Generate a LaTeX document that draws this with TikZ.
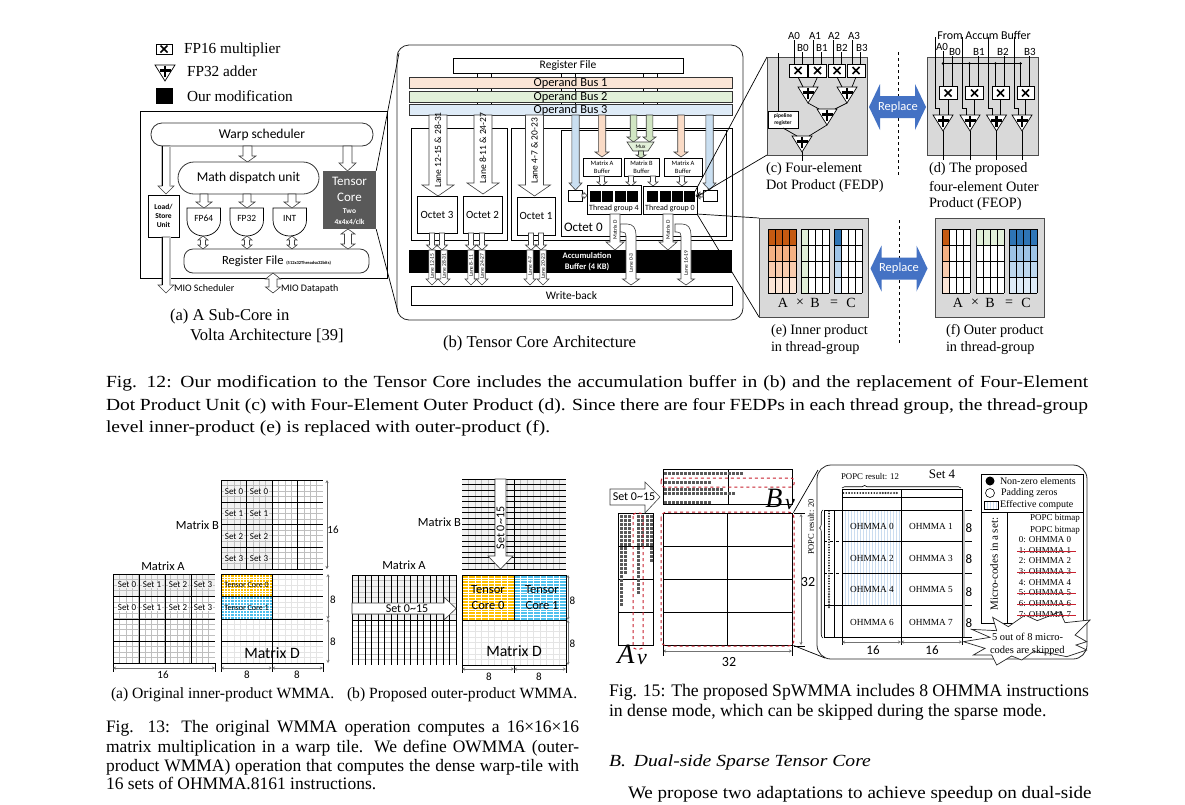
\documentclass[tikz,border=0pt]{standalone}
\usepackage{fontspec}
\setmainfont{Liberation Serif}
\newfontfamily\crl{Carlito}
\usetikzlibrary{arrows.meta,decorations.pathreplacing,calc}
\newcommand\fs[1]{\fontsize{#1}{\dimexpr #1pt*6/5\relax}\selectfont}
\definecolor{or1}{HTML}{C55A11}\definecolor{or2}{HTML}{F4B183}\definecolor{or3}{HTML}{F8CBAD}\definecolor{or4}{HTML}{FBE5D6}
\definecolor{bl1}{HTML}{2E75B6}\definecolor{bl2}{HTML}{9DC3E6}\definecolor{bl3}{HTML}{BDD7EE}\definecolor{bl4}{HTML}{DEEBF7}
\definecolor{hatchb}{HTML}{CBDDF0}
\definecolor{gr1}{HTML}{E2F0D9}\definecolor{gr2}{HTML}{C5E0B4}\definecolor{panelg}{HTML}{D9D9D9}\definecolor{cellg}{HTML}{F2F2F2}
\definecolor{gridg}{HTML}{BFBFBF}\definecolor{gridl}{HTML}{E4E4E4}\definecolor{tcorange}{HTML}{FFC000}\definecolor{tcblue}{HTML}{4FC1EE}
\definecolor{darkbox}{HTML}{595959}\definecolor{repl}{HTML}{4472C4}\definecolor{redd}{HTML}{C8202E}
\tikzset{
 lab/.style={inner sep=0pt,outer sep=0pt},
 ln/.style={line width=0.7pt,draw=black},
 ar/.style={draw=black!75,fill=white,line width=0.6pt},
 bxs/.style={draw=black,fill=white,line width=0.8pt,inner sep=0pt,outer sep=0pt},
 dim/.style={draw=black!55,line width=0.6pt,{Stealth[length=3pt,width=3pt]}-{Stealth[length=3pt,width=3pt]}},
 reddash/.style={draw=redd,dashed,line width=1pt,rounded corners=3pt},
}
\newcount\tc
\newcommand\tx[4][]{\global\advance\tc by 1 \node[lab,#1] (tx\the\tc) at (#2,#3) {#4};}
% box: style, name, x0,y0,x1,y1,text
\newcommand\bx[7][]{\node[bxs,minimum width={(#5-#3)*1pt},minimum height={(#6-#4)*1pt},align=center,#1] (#2) at ({(#3+#5)/2},{(#4+#6)/2}) {#7};}
% down arrow: style, x, y0, tip, half shaft, half head, head length
\newcommand\da[7][ar]{\draw[#1] ({#2-#5},#3) -- ({#2-#5},{#4-#7}) -- ({#2-#6},{#4-#7}) -- (#2,#4) -- ({#2+#6},{#4-#7}) -- ({#2+#5},{#4-#7}) -- ({#2+#5},#3) -- cycle;}
% double vertical arrow
\newcommand\dda[7][ar]{\draw[#1] (#2,#3) -- ({#2+#6},{#3+#7}) -- ({#2+#5},{#3+#7}) -- ({#2+#5},{#4-#7}) -- ({#2+#6},{#4-#7}) -- (#2,#4) -- ({#2-#6},{#4-#7}) -- ({#2-#5},{#4-#7}) -- ({#2-#5},{#3+#7}) -- ({#2-#6},{#3+#7}) -- cycle;}
% adder triangle: name, cx, top
\newcommand\adder[3]{\coordinate (#1) at (#2,#3); \coordinate (#1tip) at (#2,{#3+16});
 \draw[fill=white,line width=0.7pt] ({#2-10},#3) -- ({#2+10},#3) -- (#2,{#3+16}) -- cycle;
 \draw[line width=2.2pt] ({#2-5.5},{#3+5.5}) -- ({#2+5.5},{#3+5.5}) ({#2},{#3+0.5}) -- ({#2},{#3+11.5});}
% multiplier: name, cx, cy, half width, half height
\newcommand\mult[5]{\node[bxs,minimum width={2*#4*1pt},minimum height={2*#5*1pt}] (#1) at (#2,#3) {};
 \draw[line width=1.5pt] ({#2-3.5},{#3-3.5}) -- ({#2+3.5},{#3+3.5}) ({#2-3.5},{#3+3.5}) -- ({#2+3.5},{#3-3.5});}
% fine grid: x0,y0,x1,y1,colour
\newcommand\fine[5]{\foreach \i in {1,...,15}{\draw[#5,line width=0.5pt] ({#1+(#3-#1)*\i/16},#2) -- ({#1+(#3-#1)*\i/16},#4); \draw[#5,line width=0.5pt] (#1,{#2+(#4-#2)*\i/16}) -- (#3,{#2+(#4-#2)*\i/16});}}
% 4x4 matrix grid at x0
\newcommand\matg[1]{\foreach \i in {0,...,4}{\draw[line width=0.7pt] ({#1+7*\i},229) -- ({#1+7*\i},293); \draw[line width=0.7pt] (#1,{229+16*\i}) -- ({#1+28},{229+16*\i});}}
\newcommand\replace[3]{\node[lab,font=\crl\fs{12.5},text=white] (#1) at (#2,#3) {Replace};}
\newcommand\replshape[2]{\fill[repl] ({#1-29},#2) -- ({#1-18},{#2-23}) -- ({#1-18},{#2-11}) -- ({#1+17},{#2-11}) -- ({#1+17},{#2-23}) -- ({#1+28},#2) -- ({#1+17},{#2+23}) -- ({#1+17},{#2+11}) -- ({#1-18},{#2+11}) -- ({#1-18},{#2+23}) -- cycle;}
\newcommand\hrow[4]{\foreach \i in {1,...,#3}{\fill[darkbox] ({#1+4*(\i-1)},#2) rectangle ++(3,3);}}
\newcommand\vcol[3]{\foreach \i in {1,...,#3}{\fill[darkbox] (#1,{#2+4*(\i-1)}) rectangle ++(3,3);}}
\begin{document}
\begin{tikzpicture}[x=1pt,y=-1pt]
\useasboundingbox (0,0) rectangle (1185,804);
\fill[white] (0,0) rectangle (1185,804);

%%% ---------- legend
\mult{lgm}{164}{49}{8}{5}
\adder{lga}{165}{65}
\node[fill=black,inner sep=0pt,minimum width=17pt,minimum height=16pt] (lgk) at (164.5,96) {};
\tx[anchor=west,font=\fs{15.3}]{184}{50}{FP16 multiplier}
\tx[anchor=west,font=\fs{15.3}]{187}{71}{FP32 adder}
\tx[anchor=west,font=\fs{15.3}]{187}{96}{Our modification}

%%% ---------- panel (a)
\bx{pa}{140}{111}{387}{278}{}
\bx[rounded corners=11pt,draw=black!80]{warp}{151}{123}{373}{146}{\crl\fs{13.5}Warp scheduler}
\da{247.5}{146}{162}{4.5}{8.5}{6}
\da{347.5}{146}{171}{4.5}{8.5}{8}
\da{166}{146}{194}{4}{8}{8}
\draw[line width=0.9pt] (162,146) -- (162,186);
\draw[gridg,line width=1.5pt] (170,146) -- (170,186);
\bx[rounded corners=16pt,draw=black!80]{mdu}{178}{162}{319}{194}{\crl\fs{13.5}Math dispatch unit}
\node[fill=darkbox,inner sep=0pt,minimum width=53pt,minimum height=58pt] (tcr) at (349.5,200) {};
\tx[font=\crl\fs{13},text=white]{349.5}{181}{Tensor}
\tx[font=\crl\fs{13},text=white]{349.5}{197}{Core}
\tx[font=\crl\bfseries\fs{7.5},text=white]{349.5}{211}{Two}
\tx[font=\crl\bfseries\fs{7.5},text=white]{349.5}{222}{4x4x4/clk}
\bx[font=\crl\bfseries\fs{7.5}]{lsu}{148}{195}{179}{237}{Load/\\Store\\Unit}
\foreach \n/\a/\t in {fpa/187/FP64,fpb/230/FP32,fpc/273/INT}{
 \draw[fill=white,line width=0.7pt] (\a,208) -- ({\a+33.5},208) -- ({\a+33.5},220) .. controls ({\a+33.5},230) and ({\a+25},236) .. ({\a+16.7},236) .. controls ({\a+8},236) and (\a,230) .. (\a,220) -- cycle;
 \tx[font=\crl\fs{9.5}]{\a+16.7}{218}{\t}
}
\da{204}{194}{208}{4}{8}{6}
\da{247}{194}{208}{4}{8}{6}
\da{292}{194}{208}{4}{8}{6}
\bx[rounded corners=9pt,draw=black!80]{rf}{184}{249}{369}{273}{\crl\fs{12.5}Register File {\fs{4.5}\bfseries(512x32Threadsx32bits)}}
\dda{203}{236}{249}{2.5}{5}{4}
\dda{247}{236}{249}{2.5}{5}{4}
\dda{292}{236}{249}{2.5}{5}{4}
\dda{348}{229}{249}{3.5}{7}{5}
\dda{273}{273}{293}{4}{7.5}{6}
\da{166}{237}{293}{4}{8}{8}
\draw[line width=0.9pt] (162,237) -- (162,285);
\draw[gridg,line width=1.5pt] (170,237) -- (170,285);
\tx[anchor=west,font=\crl\fs{10}]{174}{288}{MIO Scheduler}
\tx[anchor=west,font=\crl\fs{10}]{281}{289}{MIO Datapath}
\tx[anchor=west,font=\fs{16.6}]{170}{316}{(a) A Sub-Core in}
\tx[anchor=west,font=\fs{16.6}]{190}{336}{Volta Architecture [39]}

%%% ---------- panel (b)
\node[draw=black!85,fill=white,line width=0.8pt,rounded corners=12pt,minimum width=346pt,minimum height=275pt,inner sep=0pt] (pb) at (570,182.5) {};
\coordinate (pbtl) at (399,53);\coordinate (pbbl) at (398,312);
\draw[ln] (tcr.north east) -- (pbtl);
\draw[ln] (tcr.south east) -- (pbbl);
\bx[font=\crl\fs{11.5}]{rfb}{453}{58}{683}{73}{Register File}
\foreach \x in {477,491,561,575,643,657}{\draw[line width=0.6pt] (\x,73) -- (\x,105);}
\bx[fill=or4,draw=black!80,line width=0.6pt,font=\crl\fs{12.4}]{bus1}{409}{78}{732}{88}{Operand Bus 1}
\bx[fill=gr1,draw=black!80,line width=0.6pt,font=\crl\fs{12.4}]{bus2}{409}{92}{732}{102}{Operand Bus 2}
\bx[fill=bl4,draw=black!80,line width=0.6pt,font=\crl\fs{12.4}]{bus3}{409}{105}{732}{115}{Operand Bus 3}
\draw[line width=0.8pt] (411,128) rectangle (507,240);
\draw[line width=0.8pt] (511,128) rectangle (732,240);
\draw[line width=0.8pt] (561,130) rectangle (726,236);
% zoom lines to (c) and (e)
\coordinate (ctl) at (767,57);\coordinate (cbl) at (767,155);\coordinate (etl) at (759,218);\coordinate (ebl) at (759,317);
\bx{oc3}{417}{196}{457}{233}{\crl\fs{11}Octet 3}
\bx{oc2}{463}{196}{502}{233}{\crl\fs{11}Octet 2}
\bx{oc1}{517}{197}{555}{235}{\crl\fs{11}Octet 1}
\tx[anchor=west,font=\crl\fs{13}]{564}{227}{Octet 0}
\da{438}{115}{196}{9}{16}{11}
\da{483}{115}{194}{9}{16}{11}
\da{534.5}{115}{196}{9}{16}{11}
\tx[rotate=90,font=\crl\fs{9.5}]{438}{150}{Lane 12-15 \& 28-31}
\tx[rotate=90,font=\crl\fs{9.5}]{483}{148}{Lane 8-11 \& 24-27}
\tx[rotate=90,font=\crl\fs{9.5}]{534.5}{151}{Lane 4-7 \& 20-23}
\tikzset{arb/.style={ar,fill=bl3!80},aro/.style={ar,fill=or3!70},arg/.style={ar,fill=gr2!80}}
\da[arb]{575.5}{115}{190}{3.7}{6.5}{7}
\da[aro]{602}{115}{157}{3.7}{7}{5}
\da[arg]{633.5}{115}{142}{3.3}{6.5}{5}
\da[arg]{649.5}{115}{142}{3.3}{6.5}{5}
\da[aro]{681}{115}{157}{3.3}{7}{5}
\da[arb]{709.5}{115}{190}{3.7}{6.5}{7}
\draw[ar,fill=gr1] (627,142) -- (654,142) -- (648,151) -- (633,151) -- cycle;
\tx[font=\crl\fs{5.5}]{640.5}{146.5}{Mux}
\da[arg]{641}{151}{158}{2.5}{5}{3}
\bx[font=\crl\fs{6.5}]{mab1}{583}{158}{621}{176}{Matrix A\\Buffer}
\bx[font=\crl\fs{6.5}]{mbb}{624}{158}{659}{176}{Matrix B\\Buffer}
\bx[font=\crl\fs{6.5}]{mab2}{664}{158}{702}{176}{Matrix A\\Buffer}
\da{602}{176}{186}{2.5}{5}{4}
\da{631}{176}{186}{2.5}{5}{4}
\da{653}{176}{186}{2.5}{5}{4}
\da{682}{176}{186}{2.5}{5}{4}
\bx{tg4}{587}{185}{641}{214}{}
\bx{tg0}{643}{186}{697}{214}{}
\tx[font=\crl\fs{8}]{614}{208}{Thread group 4}
\tx[font=\crl\fs{8}]{670}{208}{Thread group 0}
\foreach \x in {590,602,615,627,647,660,672,684}{\fill (\x,191) rectangle ++(10.5,11);}
\bx{sb1}{568}{190}{582}{201}{}
\bx{sb2}{703}{190}{717}{201}{}
\draw[ar] (sb1.east) ++(0,-1.5) -- ++(2,0) -- ++(0,-1.5) -- ++(3,3) -- ++(-3,3) -- ++(0,-1.5) -- ++(-2,0) -- cycle;
\draw[ar] (sb2.west) ++(0,-1.5) -- ++(-3,0) -- ++(0,-2) -- ++(-4,3.5) -- ++(4,3.5) -- ++(0,-2) -- ++(3,0) -- cycle;
\draw[ln] (sb2.west) ++(-8,-4) coordinate (sq) -- (ctl);
\draw[ln] (tg0.south east) -- (etl);
\draw[ln] (tg0.south east) -- (ebl);
\draw[ln,-{Stealth[length=5pt,width=4pt]}] (cbl) -- (696,197);
% accumulation buffer
\node[fill=black,inner sep=0pt,minimum width=323pt,minimum height=23pt] (acc) at (570.5,261.5) {};
\tx[font=\crl\bfseries\fs{8.5},text=white]{587}{256}{Accumulation}
\tx[font=\crl\bfseries\fs{8.5},text=white]{587}{267}{Buffer (4 KB)}
\bx[font=\crl\fs{11.5}]{wb}{411}{286}{732}{305}{Write-back}
\foreach \x in {432,442,471,482,531,541}{\da{\x}{233}{250}{2.5}{5.5}{5}}
\foreach \x/\t in {432/Lane 12-15,444/Lane 28-31,471/Lane 8-11,482/Lane 24-27,530/Lane 4-7,543/Lane 20-23}{
 \da{\x}{250}{285}{3.2}{6}{6}
 \tx[rotate=90,font=\crl\fs{5.5}]{\x}{266}{\t}
}
% elbows
\foreach \d/\t in {0/Lane 0-3,55/Lane 16-19}{
 \draw[ar] ({620+\d},224) -- ({627+\d},224) .. controls ({633+\d},224) and ({636+\d},228) .. ({636+\d},235) -- ({636+\d},279) -- ({639.5+\d},279) -- ({631+\d},285) -- ({622.5+\d},279) -- ({626+\d},279) -- ({626+\d},236) .. controls ({626+\d},233) and ({625+\d},232) .. ({622+\d},232) -- ({620+\d},232) -- cycle;
 \tx[rotate=90,font=\crl\fs{5.5}]{631+\d}{263}{\t}
}
\foreach \x in {615,668}{
 \da{\x}{214}{250}{5}{9}{8}
 \tx[rotate=90,font=\crl\fs{5.5}]{\x}{230}{Matrix D}
}
\tx[anchor=west,font=\fs{16.7}]{443}{343}{(b) Tensor Core Architecture}

%%% ---------- panel (c)
\node[fill=panelg,draw=black!70,line width=0.6pt,inner sep=0pt,minimum width=100pt,minimum height=98pt] (pc) at (817,106) {};
\mult{m1}{798}{70.5}{9}{6.5}\mult{m2}{817.5}{70.5}{9}{6.5}\mult{m3}{837}{70.5}{8.5}{6.5}\mult{m4}{856}{70.5}{9}{6.5}
\foreach \m in {m1,m2,m3,m4}{
 \draw[ln] ([xshift=-4pt]\m.north) -- ++(0,-24);
 \draw[ln] ([xshift=4pt]\m.north) -- ++(0,-12);
}
\tikzset{small/.style={font=\crl\fs{11}}}
\tx[small]{794}{36}{A0}\tx[small]{815}{36}{A1}\tx[small]{834}{36}{A2}\tx[small]{854}{36}{A3}
\tx[small]{803}{48}{B0}\tx[small]{822}{48}{B1}\tx[small]{842}{48}{B2}\tx[small]{862}{48}{B3}
\adder{a1}{808}{87}\adder{a2}{847}{87}\adder{a3}{827}{109}\adder{a4}{802}{136}
\draw[ln] (m1.south) -- ([xshift=-5pt]a1);
\draw[ln] (m2.south) -- ([xshift=5pt]a1);
\draw[ln] (m3.south) -- ([xshift=-5pt]a2);
\draw[ln] (m4.south) -- ([xshift=5pt]a2);
\draw[ln] (a1tip) -- ([xshift=-8pt]a3);
\draw[ln] (a2tip) -- ([xshift=8pt]a3);
\draw[ln] (a3tip) -- ([xshift=7pt]a4);
\node[bxs,minimum width=30pt,minimum height=17pt,font=\crl\bfseries\fs{5.5},align=center] (pipe) at (783,119.5) {pipeline\\register};
\draw[ln] (pipe.north) ++(-5,0) -- ++(0,-58);
\draw[ln] (pipe.south) -- ([xshift=-5pt]a4);
\draw[ln] (a4tip) -- ++(0,9);
\tx[anchor=west,font=\fs{14.3}]{766}{169}{(c) Four-element}
\tx[anchor=west,font=\fs{14.3}]{766}{186}{Dot Product (FEDP)}

% dashed separators and replace arrows
\draw[dashed,line width=0.7pt] (898,52) -- (898,177);
\draw[dashed,line width=0.7pt] (899,220) -- (899,345);
\replshape{898}{107}
\replshape{899.5}{268.5}
\replace{rp1}{898}{107}
\replace{rp2}{899}{268.5}

%%% ---------- panel (d)
\node[fill=panelg,draw=black!70,line width=0.6pt,inner sep=0pt,minimum width=111pt,minimum height=98pt] (pd) at (982.5,106) {};
\tx[font=\crl\fs{12}]{984}{35}{From Accum Buffer}
\tx[small]{942}{47}{A0}\tx[small]{955}{52}{B0}\tx[small]{979}{52}{B1}\tx[small]{1003}{52}{B2}\tx[small]{1030}{52}{B3}
\mult{d1}{948}{93}{9}{6.5}\mult{d2}{974.5}{93}{9}{6.5}\mult{d3}{1000.5}{93}{8.5}{6.5}\mult{d4}{1025.5}{93}{8.5}{6.5}
\adder{e1}{943}{115}\adder{e2}{970}{115}\adder{e3}{996.5}{115}\adder{e4}{1022}{115}
\foreach \m/\a in {d1/e1,d2/e2,d3/e3,d4/e4}{
 \draw[ln] (\m.south) -- (\m.south |- \a);
 \draw[ln] ([xshift=4pt]\m.north) -- ++(0,-31);
 \draw[ln] (\a tip) -- ++(0,29);
 \draw[ln] ([xshift=-5pt]\m.north) -- ++(0,-23);
}
\draw[ln] ([xshift=-5pt,yshift=23pt]d1.north) -- ++(79,0);
\draw[ln] ([xshift=-5pt]d1.north) -- ++(0,-36);
\foreach \m in {d1,d2,d3,d4}{\fill ([xshift=-5pt,yshift=23pt]\m.north) circle (1.3pt);}
\foreach \x/\a in {935/e1,962/e2,988/e3,1014/e4}{
 \coordinate (acc\a) at (\x,37);
 \draw[ln] (acc\a) -- ++(0,71) -- ++(4,0) -- ++(0,7);
}
\tx[anchor=west,font=\fs{14.3}]{929}{169}{(d) The proposed}
\tx[anchor=west,font=\fs{14.3}]{929}{187}{four-element Outer}
\tx[anchor=west,font=\fs{14.3}]{929}{204}{Product (FEOP)}

%%% ---------- panel (e)
\node[fill=panelg,draw=black!70,line width=0.6pt,inner sep=0pt,minimum width=109pt,minimum height=99pt] (pe) at (813.5,267.5) {};
\foreach \c/\y in {or1/229,or2/245,or3/261,or4/277}{\fill[\c] (768,\y) rectangle ++(28,16);}
\fill[white] (801,229) rectangle ++(28,64);
\fill[gr1] (801,229) rectangle ++(7,64);
\fill[white] (834,229) rectangle ++(28,64);
\foreach \c/\y in {bl1/229,bl2/245,bl3/261,bl4/277}{\fill[\c] (834,\y) rectangle ++(7,16);}
\matg{768}\matg{801}\matg{834}
\tikzset{matlab/.style={font=\fs{14}}}
\tx[matlab]{783}{303}{A}\tx[matlab]{800}{303}{×}\tx[matlab]{815}{303}{B}\tx[matlab]{834}{303}{=}\tx[matlab]{851}{303}{C}
\tx[anchor=west,font=\fs{14.3}]{771}{331}{(e) Inner product}
\tx[anchor=west,font=\fs{14.3}]{771}{348}{in thread-group}

%%% ---------- panel (f)
\node[fill=panelg,draw=black!70,line width=0.6pt,inner sep=0pt,minimum width=109pt,minimum height=99pt] (pf) at (989.5,267.5) {};
\fill[white] (942,229) rectangle ++(28,64);
\foreach \c/\y in {or1/229,or2/245,or3/261,or4/277}{\fill[\c] (942,\y) rectangle ++(7,16);}
\fill[white] (976,229) rectangle ++(28,64);
\fill[gr1] (976,229) rectangle ++(28,16);
\foreach \c/\y in {bl1/229,bl2/245,bl3/261,bl4/277}{\fill[\c] (1009,\y) rectangle ++(28,16);}
\matg{942}\matg{976}\matg{1009}
\tx[matlab]{958}{303}{A}\tx[matlab]{975}{303}{×}\tx[matlab]{990}{303}{B}\tx[matlab]{1009}{303}{=}\tx[matlab]{1026}{303}{C}
\tx[anchor=west,font=\fs{14.3}]{946}{331}{(f) Outer product}
\tx[anchor=west,font=\fs{14.3}]{946}{348}{in thread-group}

%%% ---------- Fig. 12 caption
\tx[anchor=base west,xscale=1.15,font=\fs{17}]{106}{387}{\makebox[854pt][s]{Fig. 12: Our modification to the Tensor Core includes the accumulation buffer in (b) and the replacement of Four-Element}}
\tx[anchor=base west,xscale=1.15,font=\fs{17}]{106}{410}{\makebox[854pt][s]{Dot Product Unit (c) with Four-Element Outer Product (d). Since there are four FEDPs in each thread group, the thread-group}}
\tx[anchor=base west,xscale=1.15,font=\fs{17}]{106}{432}{level inner-product (e) is replaced with outer-product (f).}

%%% ---------- Fig. 13 (a)
\fill[cellg] (221,480) rectangle (272,569);
\fine{221}{480}{323}{569}{gridg}
\foreach \y in {480,502,524,547,569}{\draw[line width=0.8pt] (221,\y) -- (323,\y);}
\foreach \x in {221,246,272,297}{\draw[line width=0.8pt] (\x,480) -- (\x,569);}
\foreach \x in {234,259}{\foreach \y/\n in {492/0,514/1,537/2,559/3}{\tx[font=\crl\fs{9},fill=cellg,inner sep=0.5pt]{\x}{\y}{Set \n}}}
\tx[font=\crl\fs{12.5},anchor=east]{219}{525}{Matrix B}
\draw[dim,draw=black!60,line width=0.9pt] (327,480) -- (327,569);
\tx[font=\crl\fs{11}]{333}{530}{16}
\fill[cellg] (113,574) rectangle (215,596);
\fine{113}{574}{215}{663}{gridg}
\foreach \y in {574,596,619,641,663}{\draw[line width=0.8pt] (113,\y) -- (215,\y);}
\foreach \x in {113,139,165,191}{\draw[line width=0.8pt] (\x,574) -- (\x,663);}
\foreach \x/\n in {127/0,152/1,178/2,203/3}{
 \tx[font=\crl\fs{9},fill=cellg,inner sep=0.5pt]{\x}{585}{Set \n}
 \tx[font=\crl\fs{9},fill=white,inner sep=0.5pt]{\x}{608}{Set \n}
}
\tx[font=\crl\fs{12.5}]{163}{566}{Matrix A}
\fine{221}{574}{323}{663}{gridl}
\fill[tcorange] (221,574) rectangle (272,596);
\fill[tcblue] (221,596) rectangle (272,619);
\fine{221}{574}{272}{619}{white}
\foreach \y in {574,596,619,641,663}{\draw[line width=0.8pt] (221,\y) -- (323,\y);}
\draw[line width=0.8pt] (221,574) -- (221,663);
\draw[line width=0.8pt] (272,574) -- (272,672);
\tx[font=\crl\fs{8}]{246.5}{585}{Tensor Core 0}
\tx[font=\crl\fs{8}]{246.5}{608}{Tensor Core 1}
\tx[font=\crl\fs{15.8}]{272}{653}{Matrix D}
\draw[dim] (328,574) -- (328,619);
\draw[dim] (328,619) -- (328,663);
\tx[font=\crl\fs{11}]{333}{600}{8}
\tx[font=\crl\fs{11}]{333}{642}{8}
\foreach \x in {113,215,221,323}{\draw[line width=0.7pt] (\x,663) -- (\x,672);}
\draw[dim] (113,668) -- (215,668);
\draw[dim] (221,668) -- (272,668);
\draw[dim] (272,668) -- (323,668);
\tx[font=\crl\fs{11}]{163}{675}{16}
\tx[font=\crl\fs{11}]{247}{675}{8}
\tx[font=\crl\fs{11}]{297}{675}{8}

%%% ---------- Fig. 13 (b)
\fill[cellg] (462,479) rectangle (566,569);
\foreach \i in {1,...,15}{\draw[gridg,line width=0.5pt] ({462+6.5*\i},479) -- ({462+6.5*\i},569);}
\foreach \i in {0,...,16}{\draw[line width=0.55pt] (462,{479+5.625*\i}) -- (566,{479+5.625*\i});}
\draw[line width=0.8pt] (514,479) -- (514,569);
\da{500.5}{479}{569}{5.5}{12.5}{13}
\tx[rotate=90,font=\crl\fs{12}]{500.5}{528}{Set 0\textasciitilde 15}
\tx[font=\crl\fs{12.5},anchor=east]{461}{522}{Matrix B}
\fill[cellg] (352,575) rectangle (456,620);
\foreach \i in {1,...,15}{\draw[gridg,line width=0.5pt] (352,{575+5.625*\i}) -- (456,{575+5.625*\i});}
\foreach \i in {0,...,16}{\draw[line width=0.55pt] ({352+6.5*\i},575) -- ({352+6.5*\i},665);}
\draw[line width=0.8pt] (352,620) -- (456,620);
\draw[line width=0.5pt] (352,575) -- (456,575);
\draw[ar] (352,603) -- (444,603) -- (444,597) -- (456,608.5) -- (444,620) -- (444,614) -- (352,614) -- cycle;
\tx[font=\crl\fs{12}]{407}{608.5}{Set 0\textasciitilde 15}
\tx[font=\crl\fs{12.5}]{404}{565}{Matrix A}
\fine{462}{575}{566}{665}{gridl}
\fill[tcorange] (462,575) rectangle (514,620);
\fill[tcblue] (514,575) rectangle (566,620);
\fine{462}{575}{566}{620}{white}
\foreach \y in {575,665}{\draw[line width=0.8pt] (462,\y) -- (566,\y);}
\draw[line width=0.9pt] (462,620) -- (566,620);
\draw[line width=0.8pt] (462,575) -- (462,665);
\draw[line width=0.8pt] (514,575) -- (514,620) (566,575) -- (566,665);
\draw[line width=0.7pt] (514,665) -- (514,673) (462,665) -- (462,673) (566,665) -- (566,673);
\tx[font=\crl\fs{12.5}]{488}{590}{Tensor}
\tx[font=\crl\fs{12.5}]{488}{605}{Core 0}
\tx[font=\crl\fs{12.5}]{542}{590}{Tensor}
\tx[font=\crl\fs{12.5}]{542}{605}{Core 1}
\tx[font=\crl\fs{15.8}]{514}{651}{Matrix D}
\draw[dim] (568,575) -- (568,620);
\draw[dim] (568,620) -- (568,665);
\tx[font=\crl\fs{11}]{572.5}{601}{8}
\tx[font=\crl\fs{11}]{572.5}{644}{8}
\draw[dim] (462,669) -- (514,669);
\draw[dim] (514,669) -- (566,669);
\tx[font=\crl\fs{11}]{489}{677}{8}
\tx[font=\crl\fs{11}]{539}{677}{8}

%%% ---------- Fig. 13 captions
\tx[anchor=west,font=\fs{15.6}]{111}{695}{(a) Original inner-product WMMA.}
\tx[anchor=west,font=\fs{15.6}]{347}{695}{(b) Proposed outer-product WMMA.}
\tx[anchor=base west,font=\fs{17.5}]{106}{732}{\makebox[473pt][s]{Fig. 13: The original WMMA operation computes a 16×16×16}}
\tx[anchor=base west,font=\fs{17.5}]{106}{752}{\makebox[473pt][s]{matrix multiplication in a warp tile. We define OWMMA (outer-}}
\tx[anchor=base west,font=\fs{17.5}]{106}{771}{\makebox[473pt][s]{product WMMA) operation that computes the dense warp-tile with}}
\tx[anchor=base west,font=\fs{17.5}]{106}{789}{16 sets of OHMMA.8161 instructions.}

%%% ---------- Fig. 15 left part
\node[draw=black,line width=0.8pt,inner sep=0pt,minimum width=129pt,minimum height=35pt] (bv) at (727.5,486.5) {};
\draw[line width=0.8pt] (728,469) -- (728,504);
\hrow{664}{472}{20}{}
\hrow{664}{481}{12}{}
\hrow{664}{488}{15}{}
\hrow{664}{492}{18}{}
\hrow{664}{501}{12}{}
\draw[reddash] (661,478) rectangle (794,487);
\tx[font=\itshape\fs{28}]{774}{498}{B}
\tx[font=\itshape\fs{22}]{790}{505}{v}
\node[draw=black,line width=0.8pt,inner sep=0pt,minimum width=35pt,minimum height=132pt] (av) at (635.5,579) {};
\foreach \y in {546,579,612}{\draw[line width=0.8pt] (618,\y) -- (653,\y);}
\vcol{620}{515}{23}
\vcol{624}{515}{15}
\vcol{628}{515}{8}
\vcol{637}{515}{20}
\vcol{641}{515}{8}
\vcol{646}{515}{8}
\vcol{650}{515}{12}
\draw[reddash] (633,513) rectangle (643,649);
\tx[font=\itshape\fs{28}]{626}{654}{A}
\tx[font=\itshape\fs{22}]{642}{660}{v}
\draw[ar] (610,489) -- (645,489) -- (645,482) -- (660,497) -- (645,513) -- (645,505) -- (610,505) -- cycle;
\tx[font=\crl\fs{12}]{634}{497}{Set 0\textasciitilde 15}
\node[draw=black,line width=0.8pt,inner sep=0pt,minimum width=129pt,minimum height=132pt] (mm) at (727.5,579) {};
\foreach \y in {546,579,612}{\draw[line width=0.8pt] (663,\y) -- (792,\y);}
\draw[line width=0.8pt] (727,513) -- (727,645);
\draw[reddash,rounded corners=6pt] (661,512) rectangle (794,646);
\draw[dim,line width=0.8pt] (801,514) -- (801,645);
\draw[line width=0.6pt] (794,513) -- (805,513) (794,646) -- (805,646);
\tx[font=\crl\fs{14}]{808}{582}{32}
\draw[dim] (663,651) -- (792,651);
\draw[line width=0.6pt] (663,645) -- (663,656) (792,645) -- (792,656);
\tx[font=\crl\fs{14}]{729}{662}{32}

%%% ---------- Fig. 15 callout
\node[draw=black!85,line width=0.8pt,rounded corners=14pt,minimum width=270pt,minimum height=194pt,inner sep=0pt] (co) at (952,562) {};
\coordinate (cotl) at (818,470);\coordinate (cobl) at (825,658);
\draw[ln] (mm.north east) ++(1,0) -- (cotl);
\draw[ln] (mm.south east) ++(1,0) -- (cobl);
\tx[rotate=90,font=\fs{8.5},fill=white]{811}{527}{POPC result: 20}
\draw[line width=0.6pt,decorate,decoration={brace,amplitude=3.5pt,aspect=0.14,mirror}] (823,510) -- (823,638);
\tx[font=\fs{8.8}]{870}{476}{POPC result: 12}
\tx[font=\fs{13}]{942}{474}{Set 4}
\draw[line width=0.6pt,decorate,decoration={brace,amplitude=2.5pt,aspect=0.19}] (842,488) -- (961,488);
\node[draw=black,line width=0.8pt,inner sep=0pt,minimum width=120pt,minimum height=8pt] (topr) at (902,493) {};
\draw[line width=0.8pt] (901,489) -- (901,510);
\foreach \i in {0,...,11}{\fill ({843.5+2.8*\i},493) circle (0.9pt);}
\foreach \i in {12,...,19}{\draw[line width=0.3pt] ({843.5+2.8*\i},493) circle (0.9pt);}
\draw[gridg,dashed,line width=0.5pt] (842,497) -- (842,510) (962,497) -- (962,510);
% effective cells
\fill[hatchb] (842,510) rectangle (901,605);
\foreach \i in {0,...,38}{\draw[white,line width=0.4pt] ({842.7+1.5*\i},510) -- ({842.7+1.5*\i},605);}
\foreach \y in {510,541,573,605,637}{\draw[line width=0.8pt] (824,\y) -- (972,\y);}
\draw[white,line width=1pt] (824,541) -- (842,541) (824,573) -- (842,573);
\draw[dashed,line width=0.7pt] (824,541) -- (842,541) (824,573) -- (842,573);
\foreach \x in {824,834}{\draw[line width=0.8pt] (\x,510) -- (\x,637);}
\foreach \x in {842,901,962}{\draw[line width=0.8pt] (\x,497) -- (\x,645);}
\draw[gridg,line width=1.3pt] (964,510) -- (964,637);
\foreach \i in {0,...,29}{\fill (829,{511+2.6*\i}) circle (0.9pt);}
\foreach \i in {30,...,37}{\draw[line width=0.3pt] (829,{511+2.6*\i}) circle (0.9pt);}
\foreach \x/\y/\n in {872/526/0,931/526/1,872/558/2,931/558/3,872/589/4,931/589/5,872/622/6,931/622/7}{\tx[font=\fs{9.3}]{\x}{\y}{OHMMA \n}}
\foreach \y in {528,559,592,623}{\tx[font=\crl\fs{13}]{969}{\y}{8}}
\draw[dim] (842,642) -- (901,642);
\draw[dim] (901,642) -- (962,642);
\tx[font=\crl\fs{13}]{873}{650}{16}
\tx[font=\crl\fs{13}]{932}{650}{16}
% legend box
\node[draw=black,fill=white,line width=0.8pt,inner sep=0pt,minimum width=102pt,minimum height=149pt] (lgb) at (1032,548.5) {};
\draw[line width=0.8pt] (981,512) -- (1083,512);
\draw[line width=0.8pt] (1007,512) -- (1007,623);
\fill (990,481) circle (4.5pt);
\draw[line width=0.6pt] (990,493) circle (4.5pt);
\fill[hatchb] (984,501) rectangle (998,509);
\foreach \i in {0,...,8}{\draw[white,line width=0.4pt] ({984.7+1.5*\i},501) -- ({984.7+1.5*\i},509);}
\draw[line width=0.6pt] (984,501) rectangle (998,509);
\tx[anchor=west,font=\fs{10}]{1000}{481}{Non-zero elements}
\tx[anchor=west,font=\fs{10}]{1001}{493}{Padding zeros}
\tx[anchor=west,font=\fs{10}]{1000}{505}{Effective compute}
\tx[rotate=90,font=\fs{11}]{994}{564}{Micro-codes in a set:}
\tx[font=\fs{9}]{1055}{518}{POPC bitmap}
\tx[font=\fs{9}]{1055}{530}{POPC bitmap}
\foreach \y/\n in {540/0,551/1,561/2,572/3,583/4,593/5,604/6}{\tx[font=\fs{9}]{1045}{\y}{\n: OHMMA \n}}
\foreach \y in {551,572,593,604}{\draw[redd,line width=0.8pt] (1017,\y) -- (1076,\y);}
% starburst
\begin{scope}[shift={(950,600)},x=0.3333pt,y=-0.3333pt]
\draw[fill=white,draw=black!85,line width=0.7pt] (65,88) -- (140,92) -- (128,52) -- (175,80) -- (225,45) -- (262,62) -- (330,35) -- (345,68) -- (420,60) -- (375,105) -- (410,125) -- (378,135) -- (410,150) -- (350,170) -- (300,160) -- (250,155) -- (215,180) -- (185,168) -- (140,195) -- (125,165) -- (70,165) -- (105,145) -- (40,125) -- (120,112) -- cycle;
\end{scope}
\tx[font=\fs{9}]{1045}{615}{7: OHMMA 7}
\draw[redd,line width=0.8pt] (1017,615) -- (1076,615);
\tx[anchor=west,font=\fs{10.5}]{992}{637}{5 out of 8 micro-}
\tx[anchor=west,font=\fs{10.5}]{990}{651}{codes are skipped}

%%% ---------- Fig. 15 caption and section
\tx[anchor=base west,font=\fs{17.7}]{609}{696}{\makebox[480pt][s]{Fig. 15: The proposed SpWMMA includes 8 OHMMA instructions}}
\tx[anchor=base west,font=\fs{17.7}]{609}{716}{in dense mode, which can be skipped during the sparse mode.}
\tx[anchor=base west,xscale=1.155,font=\itshape\fs{17}]{609}{766}{B.\hspace{7pt}Dual-side Sparse Tensor Core}
\tx[anchor=base west,xscale=1.09,font=\fs{17.5}]{628}{798}{We propose two adaptations to achieve speedup on dual-side}
\end{tikzpicture}
\end{document}
